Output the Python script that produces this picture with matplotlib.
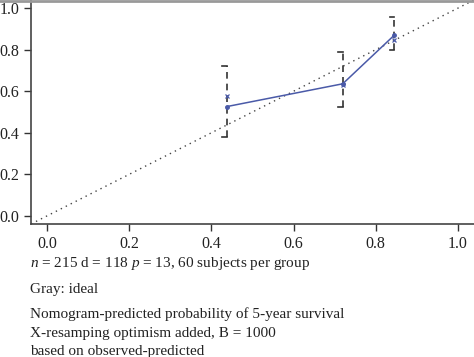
import matplotlib
matplotlib.use("Agg")
import matplotlib.pyplot as plt
from matplotlib.lines import Line2D

# calibration data
predicted = [0.437, 0.720, 0.846]
observed = [0.526, 0.636, 0.871]
corrected = [0.579, 0.630, 0.847]
ci_low = [0.378, 0.526, 0.800]
ci_high = [0.722, 0.790, 0.957]
ideal = [-0.04, 1.04]
ticks = [0.0, 0.2, 0.4, 0.6, 0.8, 1.0]

plt.rcParams['font.family'] = ['Liberation Serif', 'DejaVu Serif']
plt.rcParams['mathtext.fontset'] = 'custom'
plt.rcParams['mathtext.rm'] = 'Liberation Serif'
plt.rcParams['mathtext.it'] = 'Liberation Serif:italic'

fig = plt.figure(figsize=(4.74, 3.57), dpi=100, facecolor='white')
ax = fig.add_axes([31 / 474, 1 - 224 / 357, 1 - 31 / 474, 224 / 357])

# ideal line
ax.plot(ideal, ideal, linestyle=(0, (1, 3)), color='#444444', lw=1.0)

# confidence bars with small ticks to the left
tick_w = 0.012
for x, lo, hi in zip(predicted, ci_low, ci_high):
    ax.plot([x, x], [lo, hi], color='#333333', lw=1.2, linestyle=(0, (4, 3)))
    ax.plot([x - tick_w, x], [hi, hi], color='#333333', lw=1.2)
    ax.plot([x - tick_w, x], [lo, lo], color='#333333', lw=1.2)

ax.plot(predicted, observed, color='#4a5aa8', lw=1.1, marker='o', ms=2.5)
ax.plot(predicted, corrected, linestyle='none', marker='x', ms=3,
        mew=0.9, color='#4a5aa8')

ax.set_xlim(-0.04, 1.04)
ax.set_ylim(-0.04, 1.04)
ax.set_xticks(ticks)
ax.set_yticks(ticks)
ax.set_xticklabels([f'{t:.1f}' for t in ticks])
ax.set_yticklabels([f'{t:.1f}' for t in ticks])
ax.tick_params(labelsize=11.5, length=5, width=1, color='#333333',
               labelcolor='#222222')
ax.tick_params(axis='x', pad=4)
ax.spines['top'].set_visible(False)
ax.spines['right'].set_visible(False)
for s in ('left', 'bottom'):
    ax.spines[s].set_color('#444444')
    ax.spines[s].set_linewidth(1.2)

# gray border at the very top
fig.add_artist(Line2D([0, 1], [0.997, 0.997], transform=fig.transFigure,
                      color='#999999', lw=2))

tx = 30 / 474
fs = 11
fig.text(tx, 1 - 263 / 357, r'$n$ = 215 d = 118 $p$ = 13, 60 subjects per group',
         fontsize=fs, va='center', color='#222222')
fig.text(tx, 1 - 289 / 357, 'Gray: ideal', fontsize=fs, va='center',
         color='#222222')
fig.text(tx, 1 - 314 / 357, 'Nomogram-predicted probability of 5-year survival',
         fontsize=fs, va='center', color='#222222')
fig.text(tx, 1 - 333 / 357, 'X-resamping optimism added, B = 1000',
         fontsize=fs, va='center', color='#222222')
fig.text(tx, 1 - 351 / 357, 'based on observed-predicted',
         fontsize=fs, va='center', color='#222222')

fig.savefig('out.png', dpi=100, facecolor='white')
